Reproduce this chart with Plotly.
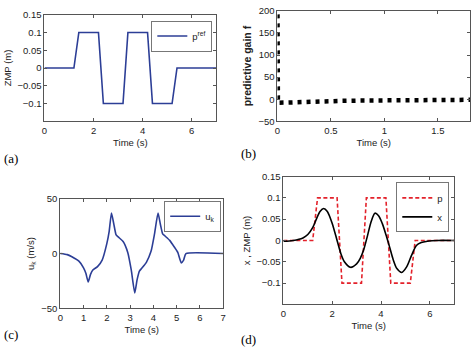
import plotly.graph_objects as go

# ---------------- data ----------------
# (a) / (d) reference ZMP
p_t = [0, 1.2, 1.4, 2.2, 2.4, 3.2, 3.4, 4.2, 4.4, 5.2, 5.4, 7]
p_ref = [0, 0, 0.1, 0.1, -0.1, -0.1, 0.1, 0.1, -0.1, -0.1, 0, 0]

# (b) predictive gain
f_t = [0, 0.004, 0.1, 0.18, 0.26, 0.35, 0.42, 0.5, 0.6, 0.8, 1.0, 1.2, 1.4, 1.6, 1.8]
f_val = [192, -8, -7.5, -6.5, -6, -5.5, -4.8, -4.3, -3.8, -3.0, -2.4, -2.0, -1.7, -1.5, -1.4]

# (c) control input u_k
u_t = [0, 0.3, 0.5, 0.8, 1.0, 1.1, 1.2, 1.3, 1.4, 1.6, 1.8, 2.0, 2.1, 2.2, 2.3, 2.4,
       2.5, 2.7, 2.9, 3.05, 3.2, 3.3, 3.4, 3.5, 3.7, 3.9, 4.05, 4.2, 4.3, 4.4, 4.5,
       4.7, 4.9, 5.05, 5.2, 5.3, 5.4, 7]
u_val = [0, -1, -3, -7, -13, -18, -26, -19, -15, -12, -6, 9, 20, 37, 27, 17,
         15, 11, 1, -15, -36, -24, -16, -13.5, -8, 2, 18, 37, 27, 18, 16,
         12, 6, 1, -8.5, -6, 0, 0]

# (d) CoM trajectory x
x_t = [0, 0.4, 0.8, 1.0, 1.2, 1.35, 1.5, 1.65, 1.8, 2.0, 2.2, 2.35, 2.5, 2.75, 3.0,
       3.15, 3.3, 3.45, 3.6, 3.75, 3.9, 4.05, 4.2, 4.35, 4.5, 4.65, 4.85, 5.05, 5.25,
       5.45, 5.65, 5.9, 6.3, 7]
x_val = [-0.002, 0.0, 0.006, 0.014, 0.03, 0.05, 0.068, 0.075, 0.068, 0.04, 0.0, -0.03,
         -0.05, -0.063, -0.055, -0.042, -0.02, 0.012, 0.045, 0.064, 0.058, 0.04, 0.014,
         -0.015, -0.045, -0.066, -0.075, -0.062, -0.035, -0.012, -0.005, -0.002, 0, 0]

# ---------------- layout helpers ----------------
W, H = 474, 353
def dx(a, b):
    return [a / W, b / W]
def dy(top, bottom):
    return [1 - bottom / H, 1 - top / H]

BLUE = "#2c3e96"
RED = "#e3222b"
AX = "#555555"
FONT = dict(family="Liberation Sans, Arial, sans-serif", size=9.5, color="#222222")
BFONT = dict(family="Liberation Sans, Arial, sans-serif", size=10.5, color="#222222")

fig = go.Figure()

fig.add_trace(go.Scatter(x=p_t, y=p_ref, mode="lines", name="p<sup>ref</sup>",
                         line=dict(color=BLUE, width=1.6), xaxis="x", yaxis="y",
                         legend="legend"))
fig.add_trace(go.Scatter(x=f_t, y=f_val, mode="lines", showlegend=False,
                         line=dict(color="black", width=4.5, dash="4px,5px"),
                         xaxis="x2", yaxis="y2"))
fig.add_trace(go.Scatter(x=u_t, y=u_val, mode="lines", name="u<sub>k</sub>",
                         line=dict(color=BLUE, width=1.6, shape="spline", smoothing=0.5),
                         xaxis="x3", yaxis="y3", legend="legend2"))
fig.add_trace(go.Scatter(x=p_t, y=p_ref, mode="lines", name="p",
                         line=dict(color=RED, width=1.6, dash="4px,2.5px"),
                         xaxis="x4", yaxis="y4", legend="legend3"))
fig.add_trace(go.Scatter(x=x_t, y=x_val, mode="lines", name="x",
                         line=dict(color="black", width=1.6, shape="spline", smoothing=0.8),
                         xaxis="x4", yaxis="y4", legend="legend3"))

def axis(domain, rng, tickvals, title, anchor, standoff, bold=False):
    t = f"<b>{title}</b>" if bold else title
    return dict(domain=domain, range=rng, tickvals=tickvals, anchor=anchor,
                showgrid=False, zeroline=False, showline=True, linecolor=AX,
                linewidth=1, mirror="ticks", ticks="inside", ticklen=3,
                tickcolor=AX, tickfont=FONT,
                title=dict(text=t, font=BFONT if bold else FONT, standoff=standoff))

LEG = dict(xanchor="right", yanchor="top", bordercolor="#777777", borderwidth=1,
           bgcolor="white", font=FONT, itemwidth=30, tracegroupgap=0)

fig.update_layout(
    width=W, height=H, margin=dict(l=0, r=0, t=0, b=0),
    paper_bgcolor="white", plot_bgcolor="white", font=FONT,
    xaxis=axis(dx(42, 216), [0, 7], [0, 2, 4, 6], "Time (s)", "y", 4),
    yaxis=axis(dy(9, 119), [-0.15, 0.15], [-0.1, -0.05, 0, 0.05, 0.1, 0.15], "ZMP (m)", "x", 4),
    xaxis2=axis(dx(278, 473), [0, 1.8], [0, 0.5, 1, 1.5], "Time (s)", "y2", 4),
    yaxis2=axis(dy(5, 119), [-50, 200], [-50, 0, 50, 100, 150, 200], "predictive gain f", "x2", 4, bold=True),
    xaxis3=axis(dx(58, 223), [0, 7], [0, 1, 2, 3, 4, 5, 6, 7], "Time (s)", "y3", 4),
    yaxis3=axis(dy(199, 312), [-50, 50], [-50, 0, 50], "u<sub>k</sub> (m/s)", "x3", 4),
    xaxis4=axis(dx(284, 457), [0, 7], [0, 2, 4, 6], "Time (s)", "y4", 4),
    yaxis4=axis(dy(176, 308), [-0.15, 0.15], [-0.1, -0.05, 0, 0.05, 0.1, 0.15], "x , ZMP (m)", "x4", 4),
    legend=dict(x=212 / W, y=1 - 15 / H, **LEG),
    legend2=dict(x=221 / W, y=1 - 201 / H, **LEG),
    legend3=dict(x=452 / W, y=1 - 182 / H, **LEG),
)

LBL = dict(family="Liberation Serif, Times New Roman, serif", size=13, color="black")
for txt, px, py in [("(a)", -1, 157), ("(b)", 239, 152), ("(c)", -1, 339), ("(d)", 239, 344)]:
    fig.add_annotation(text=txt, x=px / W, y=1 - py / H, xref="paper", yref="paper",
                       xanchor="left", yanchor="middle", showarrow=False, font=LBL)

fig.write_html("out.html")
